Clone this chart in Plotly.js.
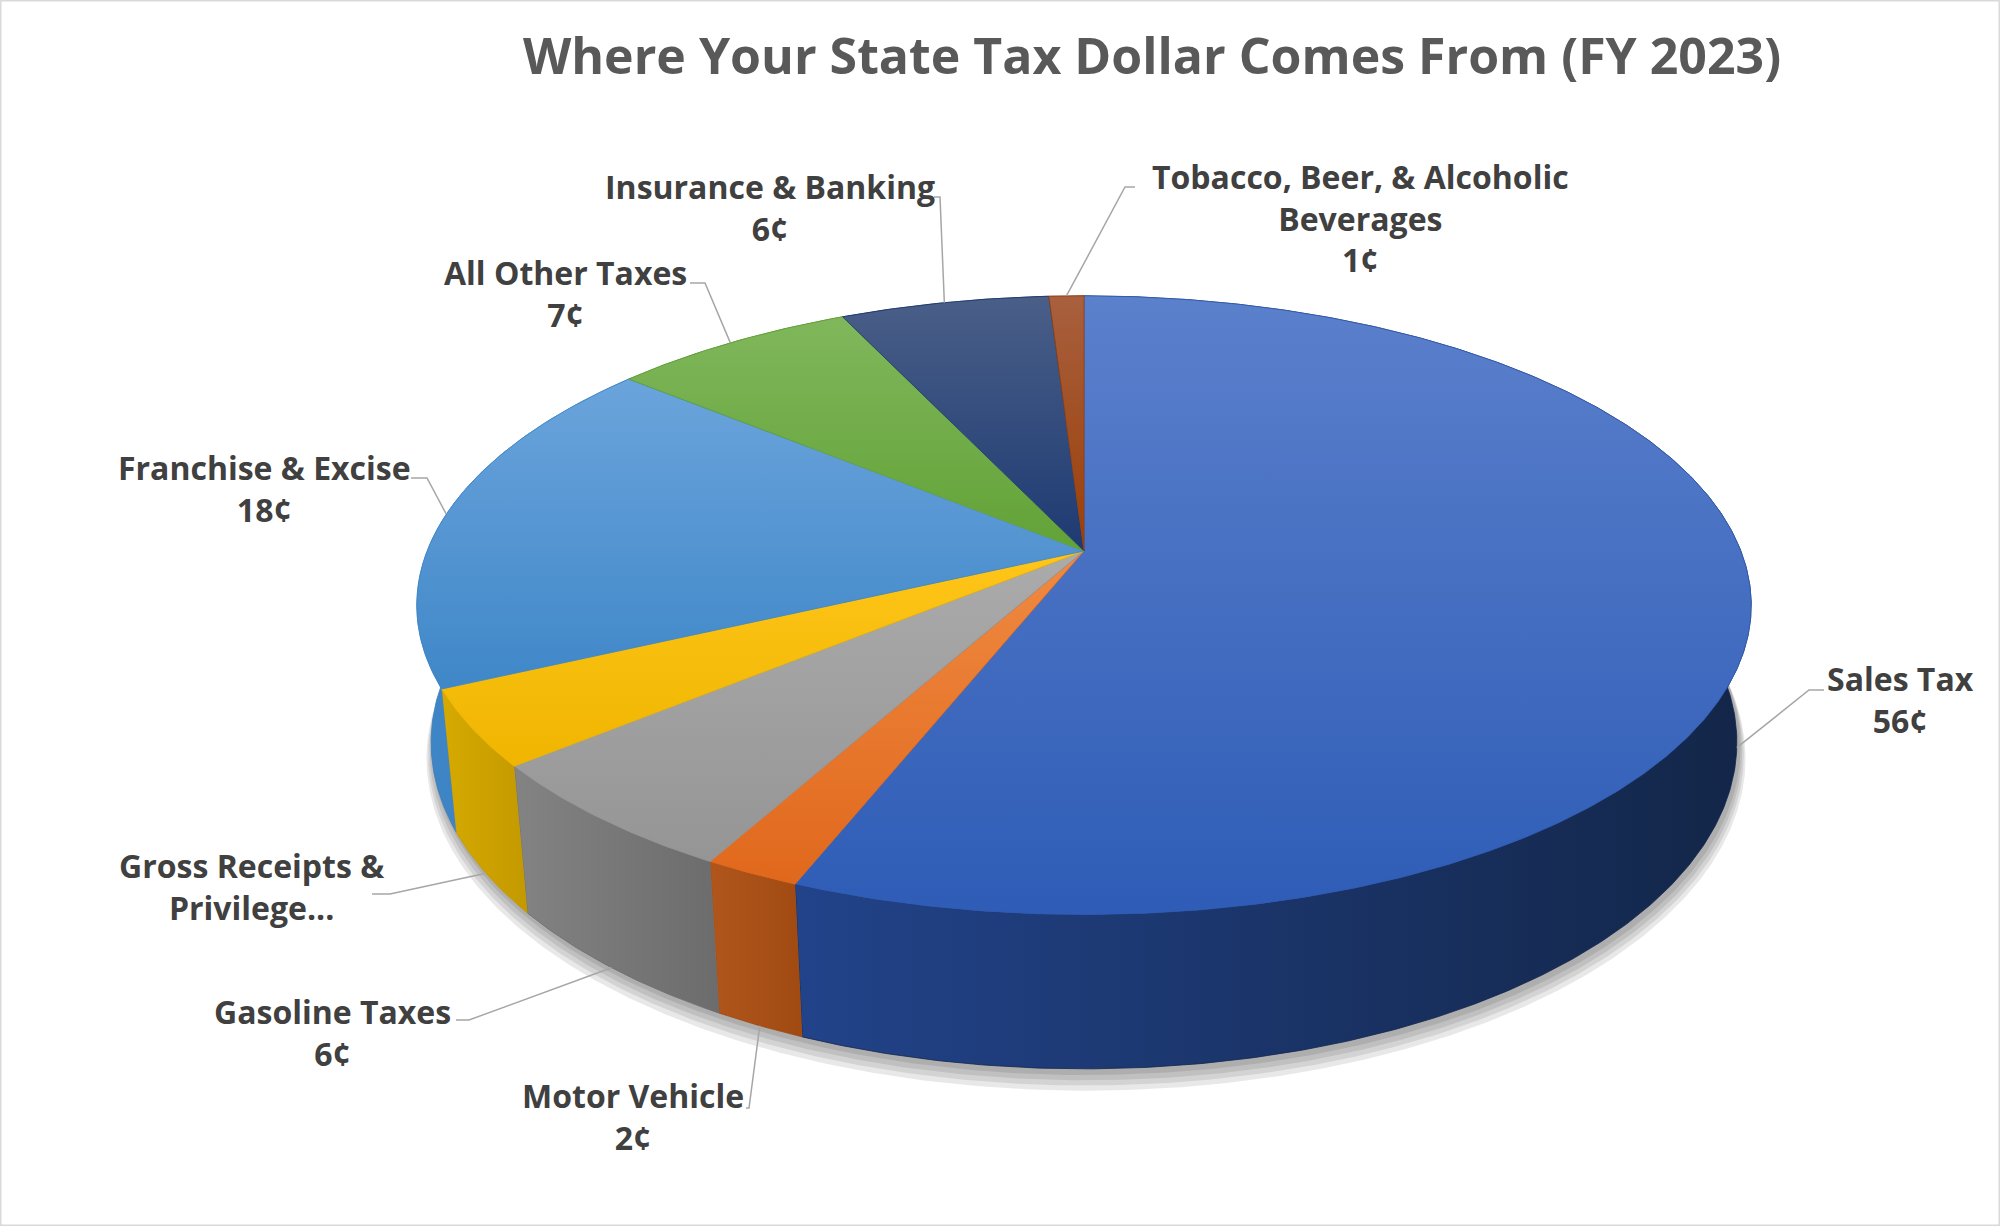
<!DOCTYPE html>
<html>
<head>
<meta charset="utf-8">
<script src="https://cdn.plot.ly/plotly-3.0.1.min.js"></script>
<style>
html, body { margin: 0; padding: 0; background: #fff; }
#plot { width: 2000px; height: 1226px; }
</style>
</head>
<body>
<div id="plot"></div>
<script>
// slices in Excel order, clockwise from 12 o'clock
var categories = ['Sales Tax', 'Motor Vehicle', 'Gasoline Taxes', 'Gross Receipts & Privilege...',
                  'Franchise & Excise', 'All Other Taxes', 'Insurance & Banking',
                  'Tobacco, Beer, & Alcoholic Beverages'];
var cents = [56, 2, 6, 4, 18, 7, 6, 1];
var labelText = ['Sales Tax<br>56¢', 'Motor Vehicle<br>2¢', 'Gasoline Taxes<br>6¢',
                 'Gross Receipts &<br>Privilege...', 'Franchise & Excise<br>18¢',
                 'All Other Taxes<br>7¢', 'Insurance & Banking<br>6¢',
                 'Tobacco, Beer, & Alcoholic<br>Beverages<br>1¢'];

// styling (top face light->dark, side wall light->dark)
var topColors = [['#5b80cc', '#2e5cb6'], ['#f08a42', '#e0681c'], ['#ababab', '#959595'],
                 ['#ffc61a', '#efb500'], ['#6ba4dc', '#3f87c8'], ['#80b75c', '#62a236'],
                 ['#4a5f88', '#1d3a72'], ['#a8603e', '#9b3f08']];
var wallColors = [['#22438a', '#132648'], ['#b0561c', '#a04a12'], ['#838383', '#6c6c6c'],
                  ['#d6aa00', '#c39900'], ['#3f86c6', '#3a7dbb'], ['#5c9532', '#4f842a'],
                  ['#1c3460', '#182d55'], ['#8a3a0a', '#7a3208']];

// label placement (pixels) and the label side of each leader line
var labelPos = [[1900, 699], [633, 1116], [332, 1032], [251, 886], [264, 488],
                [565, 293], [770, 207], [1360, 218]];
var leaderStart = [[[1824, 690], [1809, 690]], [[746, 1108], [749, 1108]],
                   [[456, 1020], [469, 1020]], [[372, 894], [390, 894]],
                   [[411, 478], [427, 478]], [[690, 283], [705, 283]],
                   [[934, 197], [940, 197]], [[1135, 187], [1125, 187]]];

// simple perspective view of a tilted disc
var CX = 1084, CY = 551, K = 3335, DIST = 5.077, SN = 0.4565, CS = 0.8898, H = 0.2365;
function proj(theta, r, z) {
    var a = theta * Math.PI / 180;
    var x = r * Math.sin(a), y = r * Math.cos(a);
    var depth = y * CS - z * SN + DIST;
    var up = y * SN + z * CS;
    return [CX + K * x / depth, CY - K * up / depth];
}
function arc(t1, t2, r, z) {
    var pts = [], n = Math.max(2, Math.ceil(Math.abs(t2 - t1) / 0.5));
    for (var i = 0; i <= n; ++i) pts.push(proj(t1 + (t2 - t1) * i / n, r, z));
    return pts;
}

var total = cents.reduce(function (a, b) { return a + b; }, 0);
var starts = [], ends = [], acc = 0;
for (var i = 0; i < cents.length; ++i) {
    starts.push(acc / total * 360);
    acc += cents[i];
    ends.push(acc / total * 360);
}

var traces = [];

// soft shadow just under the wall
for (var s = 4; s >= 1; --s) {
    var sh = arc(60, 300, 1 + 0.003 * s, -H - 0.006 * s);
    traces.push({
        type: 'scatter', mode: 'lines', hoverinfo: 'skip', showlegend: false,
        x: sh.map(function (p) { return p[0] + 2; }), y: sh.map(function (p) { return p[1] + 1; }),
        fill: 'toself', fillcolor: 'rgba(0,0,0,0.09)', line: { width: 0 }
    });
}

// outer walls
for (var i = 0; i < cents.length; ++i) {
    var pts = arc(starts[i], ends[i], 1, 0).concat(arc(ends[i], starts[i], 1, -H));
    traces.push({
        type: 'scatter', mode: 'lines', hoverinfo: 'skip', showlegend: false,
        x: pts.map(function (p) { return p[0]; }), y: pts.map(function (p) { return p[1]; }),
        fill: 'toself', line: { width: 0.8, color: wallColors[i][1] },
        fillcolor: wallColors[i][0],
        fillgradient: { type: 'horizontal', colorscale: [[0, wallColors[i][0]], [1, wallColors[i][1]]] }
    });
}

// top faces (lighter toward the back)
for (var i = 0; i < cents.length; ++i) {
    var pts = [proj(0, 0, 0)].concat(arc(starts[i], ends[i], 1, 0));
    pts.push(proj(0, 0, 0));
    traces.push({
        type: 'scatter', mode: 'lines', hoverinfo: 'skip', showlegend: false,
        name: categories[i],
        x: pts.map(function (p) { return p[0]; }), y: pts.map(function (p) { return p[1]; }),
        fill: 'toself', line: { width: 0.8, color: topColors[i][1] },
        fillcolor: topColors[i][0],
        fillgradient: { type: 'vertical', colorscale: [[0, topColors[i][1]], [1, topColors[i][0]]] }
    });
}

// leader lines and labels
var annotations = [];
for (var i = 0; i < cents.length; ++i) {
    var mid = (starts[i] + ends[i]) / 2;
    var anchor = (mid > 90 && mid < 270) ? proj(mid, 1, -H) : proj(mid, 1, 0);
    var pts = leaderStart[i].concat([anchor]);
    traces.push({
        type: 'scatter', mode: 'lines', hoverinfo: 'skip', showlegend: false,
        x: pts.map(function (p) { return p[0]; }), y: pts.map(function (p) { return p[1]; }),
        line: { width: 1.5, color: '#a6a6a6' }
    });
    annotations.push({
        x: labelPos[i][0], y: labelPos[i][1], xref: 'x', yref: 'y',
        text: labelText[i], showarrow: false, align: 'center',
        xanchor: 'center', yanchor: 'middle',
        font: { family: 'Open Sans, sans-serif', size: 32, color: '#404040', weight: 700 }
    });
}

var layout = {
    width: 2000, height: 1226,
    margin: { l: 0, r: 0, t: 0, b: 0 },
    paper_bgcolor: '#ffffff', plot_bgcolor: '#ffffff',
    title: {
        text: 'Where Your State Tax Dollar Comes From (FY 2023)',
        x: 0.576, xanchor: 'center', y: 0.954, yanchor: 'middle',
        font: { family: 'Open Sans, sans-serif', size: 50, color: '#595959', weight: 700 }
    },
    xaxis: { range: [0, 2000], visible: false, fixedrange: true },
    yaxis: { range: [1226, 0], visible: false, fixedrange: true },
    showlegend: false,
    annotations: annotations,
    shapes: [{
        type: 'rect', xref: 'paper', yref: 'paper', x0: 0, y0: 0, x1: 1, y1: 1,
        line: { color: '#d9d9d9', width: 3 }
    }]
};

Plotly.newPlot(document.getElementById('plot'), traces, layout, { displayModeBar: false, staticPlot: true });
</script>
</body>
</html>
